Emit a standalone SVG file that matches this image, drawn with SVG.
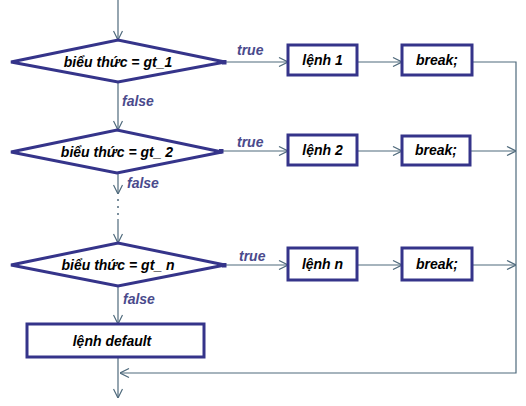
<svg xmlns="http://www.w3.org/2000/svg" width="526" height="406" viewBox="0 0 526 406">
<defs>
<marker id="arr" viewBox="0 0 10 10" refX="10" refY="5" markerWidth="10" markerHeight="10" markerUnits="userSpaceOnUse" orient="auto">
<path d="M1,0.5 L10,5 L1,9.5" fill="none" stroke="#4f6a7c" stroke-width="1.2"/>
</marker>
<marker id="sq" viewBox="0 0 6 6" refX="3" refY="3" markerWidth="5" markerHeight="5" markerUnits="userSpaceOnUse">
<rect x="0" y="0" width="6" height="6" fill="#35348a"/>
</marker>
<style>
.n{fill:#fff;stroke:#35348a;stroke-width:3}
.t{font-family:"Liberation Sans",Arial,sans-serif;font-size:14px;font-weight:bold;font-style:italic;fill:#000;text-anchor:middle}
.l{font-family:"Liberation Sans",Arial,sans-serif;font-size:14px;font-weight:bold;font-style:italic;fill:#4a4a8c}
.c{fill:none;stroke:#4f6a7c;stroke-width:1.2}
.a{marker-end:url(#arr)}
.s{marker-start:url(#sq)}
</style>
</defs>
<rect width="526" height="406" fill="#fff"/>
<g id="connectors">
<path class="c a" d="M118,0 V40"/>
<path class="c a" d="M118,82 V130"/>
<path class="c a" d="M118,173 V194"/>
<path class="c a" d="M118,219 V243"/>
<path class="c a" d="M118,286 V324"/>
<path class="c a" d="M118,357 V398"/>
<path class="c a s" d="M224,62 H288"/>
<path class="c a" d="M357,62 H402"/>
<path class="c a" d="M472,62 H516 V373 H120"/>
<path class="c a s" d="M221,151 H288"/>
<path class="c a" d="M357,151 H402"/>
<path class="c a" d="M470,151 H516"/>
<path class="c a s" d="M224,265 H288"/>
<path class="c a" d="M357,265 H402"/>
<path class="c a" d="M472,265 H516"/>
<g fill="#4f6a7c">
<circle cx="118" cy="200" r="1"/>
<circle cx="118" cy="207" r="1"/>
<circle cx="118" cy="214" r="1"/>
</g>
<text class="l" x="237" y="55">true</text>
<text class="l" x="237" y="147">true</text>
<text class="l" x="239" y="261">true</text>
<text class="l" x="122" y="106">false</text>
<text class="l" x="127" y="188">false</text>
<text class="l" x="123" y="304">false</text>
</g>
<g id="cond1">
<polygon class="n" points="11,62 118,40 225,62 118,82"/>
<text class="t" x="118" y="67">biểu thức = gt_1</text>
</g>
<g id="cond2">
<polygon class="n" points="11,152 117,130 222,152 117,173"/>
<text class="t" x="117" y="157">biểu thức = gt_ 2</text>
</g>
<g id="condn">
<polygon class="n" points="11,265 118,243 225,265 118,286"/>
<text class="t" x="118" y="270">biểu thức = gt_ n</text>
</g>
<g id="lenh1">
<rect class="n" x="288" y="45" width="69" height="30"/>
<text class="t" x="322.5" y="65">lệnh 1</text>
</g>
<g id="break1">
<rect class="n" x="402" y="45" width="70" height="30"/>
<text class="t" x="437" y="65">break;</text>
</g>
<g id="lenh2">
<rect class="n" x="288" y="135" width="69" height="30"/>
<text class="t" x="322.5" y="155">lệnh 2</text>
</g>
<g id="break2">
<rect class="n" x="402" y="136" width="68" height="29"/>
<text class="t" x="436" y="155">break;</text>
</g>
<g id="lenhn">
<rect class="n" x="288" y="248" width="69" height="32"/>
<text class="t" x="322.5" y="269">lệnh n</text>
</g>
<g id="breakn">
<rect class="n" x="402" y="248" width="70" height="32"/>
<text class="t" x="437" y="269">break;</text>
</g>
<g id="default">
<rect class="n" x="27" y="324" width="177" height="33"/>
<text class="t" x="112" y="346">lệnh default</text>
</g>
</svg>
